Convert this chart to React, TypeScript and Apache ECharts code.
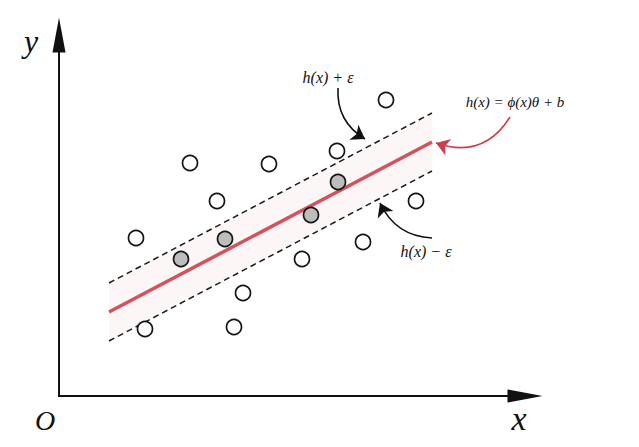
import React, { useEffect, useRef } from "react";
import * as echarts from "echarts";

// Data in axis units (1 unit ≈ 1 px of the figure)
const openPoints: [number, number][] = [
  [327, 296], [131, 233], [210, 232], [278, 245], [158, 195], [77, 158],
  [357, 195], [304, 154], [243, 137], [184, 103], [86, 67], [175, 69],
];
const supportPoints: [number, number][] = [
  [122, 137], [166, 157], [252, 181], [279, 214],
];
const fitLine: [number, number][] = [[50, 84], [373, 254]];
const upperLine: [number, number][] = [[50, 113], [373, 283]];
const lowerLine: [number, number][] = [[50, 55], [373, 225]];
const blackArrows: { from: [number, number]; to: [number, number]; curve: number }[] = [
  { from: [279, 308], to: [306, 257], curve: -0.3 },
  { from: [373, 158], to: [321, 193], curve: 0.3 },
];
const redArrows: { from: [number, number]; to: [number, number]; curve: number }[] = [
  { from: [451, 279], to: [377, 253], curve: 0.4 },
];
const labelUpper = "h(x) + ε";
const labelLower = "h(x) − ε";
const labelModel = "h(x) = ϕ(x)θ + b";

export default function App() {
  const ref = useRef<HTMLDivElement>(null);
  useEffect(() => {
    if (!ref.current) return;
    const chart = echarts.init(ref.current, null, { renderer: "svg" });
    const serif = "Liberation Serif";
    const txt = (text: string, x: number, y: number, size: number) => ({
      type: "text",
      x,
      y,
      style: {
        text,
        fontFamily: serif,
        fontStyle: "italic",
        fontSize: size,
        fill: "#111",
        align: "center",
        verticalAlign: "middle",
      },
    });
    const axisCommon = {
      type: "value" as const,
      axisTick: { show: false },
      axisLabel: { show: false },
      splitLine: { show: false },
      axisLine: {
        show: true,
        symbol: ["none", "triangle"],
        symbolSize: [13, 35],
        lineStyle: { color: "#111", width: 2 },
      },
    };
    chart.setOption({
      animation: false,
      backgroundColor: "#ffffff",
      grid: { left: 59, top: 35, width: 466, height: 361 },
      xAxis: { ...axisCommon, min: 0, max: 466 },
      yAxis: { ...axisCommon, min: 0, max: 361 },
      series: [
        {
          type: "custom",
          z: 1,
          data: [0],
          renderItem: (_params: any, api: any) => {
            const pts = [
              api.coord(upperLine[0]),
              api.coord(upperLine[1]),
              api.coord(lowerLine[1]),
              api.coord(lowerLine[0]),
            ];
            return {
              type: "polygon",
              shape: { points: pts },
              style: { fill: "rgba(225,150,150,0.09)", stroke: "none" },
            };
          },
        },
        {
          type: "line",
          z: 3,
          data: upperLine,
          showSymbol: false,
          lineStyle: { color: "#1a1a1a", width: 1.5, type: [6, 4] },
        },
        {
          type: "line",
          z: 3,
          data: lowerLine,
          showSymbol: false,
          lineStyle: { color: "#1a1a1a", width: 1.5, type: [6, 4] },
        },
        {
          type: "line",
          z: 4,
          data: fitLine,
          showSymbol: false,
          lineStyle: { color: "#d4525e", width: 3.5 },
        },
        {
          type: "scatter",
          z: 5,
          data: openPoints,
          symbolSize: 15,
          itemStyle: { color: "#ffffff", borderColor: "#151515", borderWidth: 1.7, opacity: 1 },
        },
        {
          type: "scatter",
          z: 5,
          data: supportPoints,
          symbolSize: 15,
          itemStyle: { color: "#bdbdbd", borderColor: "#151515", borderWidth: 1.7, opacity: 1 },
        },
        {
          type: "lines",
          coordinateSystem: "cartesian2d",
          z: 6,
          symbol: ["none", "arrow"],
          symbolSize: 13,
          lineStyle: { color: "#111", width: 1.6, opacity: 1 },
          data: blackArrows.map((a) => ({
            coords: [a.from, a.to],
            lineStyle: { curveness: a.curve },
          })),
        },
        {
          type: "lines",
          coordinateSystem: "cartesian2d",
          z: 6,
          symbol: ["none", "arrow"],
          symbolSize: 13,
          lineStyle: { color: "#c9404f", width: 1.6, opacity: 1 },
          data: redArrows.map((a) => ({
            coords: [a.from, a.to],
            lineStyle: { curveness: a.curve },
          })),
        },
      ],
      graphic: [
        txt("y", 31, 41, 32),
        txt("O", 45, 420, 28),
        txt("x", 519, 418, 34),
        txt(labelUpper, 328, 77, 16),
        txt(labelLower, 426, 251, 16),
        txt(labelModel, 515, 102, 15),
      ],
    });
    return () => chart.dispose();
  }, []);
  return (
    <div
      ref={ref}
      style={{ position: "absolute", left: 0, top: 0, width: 639, height: 447, background: "#fff" }}
    />
  );
}
